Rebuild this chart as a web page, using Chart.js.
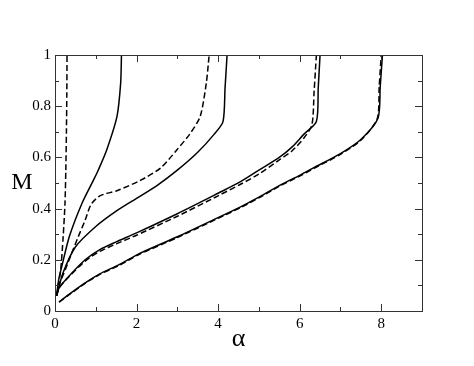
<!DOCTYPE html>
<html>
<head>
<meta charset="utf-8">
<script src="https://cdn.jsdelivr.net/npm/chart.js@4"></script>
<style>
  body { margin: 0; background: #fff; }
  #wrap { width: 474px; height: 366px; }
</style>
</head>
<body>
<div id="wrap"><canvas id="mplot"></canvas></div>
<script>
// curves: alpha values and M values
var aA = [0.04, 0.09, 0.14, 0.2, 0.245, 0.265, 0.28, 0.29, 0.295];
var mA = [0.06, 0.11, 0.16, 0.29, 0.42, 0.55, 0.7, 0.85, 1.0];

var aB = [0.04, 0.07, 0.1, 0.16, 0.35, 0.66, 0.94, 1.06, 1.27, 1.52, 1.61, 1.63];
var mB = [0.06, 0.1, 0.13, 0.17, 0.29, 0.42, 0.51, 0.55, 0.63, 0.76, 0.89, 1.0];

var aC = [0.04, 0.12, 0.25, 0.41, 0.57, 0.74, 0.88, 1.1, 1.52, 2.09, 2.6, 2.99, 3.3, 3.56, 3.71, 3.78];
var mC = [0.06, 0.11, 0.16, 0.226, 0.29, 0.355, 0.415, 0.45, 0.47, 0.51, 0.56, 0.63, 0.69, 0.76, 0.89, 1.0];

var aD = [0.04, 0.2, 0.5, 1, 1.5, 2, 2.5, 3, 3.5, 3.9, 4.12, 4.17, 4.22];
var mD = [0.06, 0.15, 0.25, 0.33, 0.39, 0.44, 0.49, 0.55, 0.62, 0.69, 0.74, 0.87, 1.0];

var aE = [0.04, 0.1, 0.33, 0.74, 1.1, 1.5, 2, 3, 4, 4.55, 5, 5.5, 5.81, 6.1, 6.41, 6.455, 6.5];
var mE = [0.06, 0.09, 0.134, 0.2, 0.24, 0.27, 0.305, 0.38, 0.46, 0.505, 0.55, 0.6, 0.64, 0.69, 0.74, 0.87, 1.0];

var aE2 = [0.04, 0.1, 0.33, 0.74, 1.1, 1.5, 2, 3, 4, 4.55, 5, 5.5, 5.81, 6.1, 6.3, 6.355, 6.41];
var mE2 = [0.06, 0.09, 0.132, 0.195, 0.233, 0.262, 0.296, 0.37, 0.45, 0.495, 0.535, 0.59, 0.625, 0.675, 0.727, 0.86, 1.0];

var aF = [0.1, 0.3, 0.74, 1.1, 1.56, 2.09, 3, 4, 4.55, 5, 5.5, 6, 6.35, 7, 7.5, 7.92, 7.975, 8.03];
var mF = [0.035, 0.06, 0.11, 0.145, 0.18, 0.226, 0.29, 0.365, 0.407, 0.445, 0.49, 0.53, 0.56, 0.615, 0.67, 0.753, 0.875, 1.0];

var aF2 = [0.1, 0.3, 0.74, 1.1, 1.56, 2.09, 3, 4, 4.55, 5, 5.5, 6, 6.35, 7, 7.5, 7.9, 7.95, 8.0];
var mF2 = [0.035, 0.058, 0.108, 0.143, 0.177, 0.223, 0.287, 0.362, 0.404, 0.442, 0.487, 0.527, 0.557, 0.612, 0.667, 0.75, 0.875, 1.0];

var xTicks = [0, 2, 4, 6, 8];

function pts(a, m) {
  var out = [];
  for (var i = 0; i < a.length; i++) out.push({ x: a[i], y: m[i] });
  return out;
}

function line(a, m, dashed) {
  return {
    data: pts(a, m),
    showLine: true,
    borderColor: '#000',
    borderWidth: 1.5,
    borderDash: dashed ? [6, 3] : [],
    pointRadius: 0,
    fill: false,
    tension: 0.25
  };
}

// frame, inward ticks on all four sides, and the upright "M"
var frame = {
  id: 'frame',
  afterDraw: function (chart) {
    var ctx = chart.ctx;
    var ca = chart.chartArea;
    var x = chart.scales.x, y = chart.scales.y;
    ctx.save();
    ctx.strokeStyle = '#333';
    ctx.lineWidth = 1;
    ctx.strokeRect(ca.left + 0.5, ca.top + 0.5, ca.right - ca.left, ca.bottom - ca.top);
    ctx.beginPath();
    for (var v = 0; v <= 9; v++) {
      var px = Math.round(x.getPixelForValue(v)) + 0.5;
      var len = v % 2 === 0 ? 7 : 4;
      ctx.moveTo(px, ca.bottom); ctx.lineTo(px, ca.bottom - len);
      ctx.moveTo(px, ca.top); ctx.lineTo(px, ca.top + len);
    }
    for (var k = 0; k <= 10; k++) {
      var py = Math.round(y.getPixelForValue(k / 10)) + 0.5;
      var l2 = k % 2 === 0 ? 7 : 4;
      ctx.moveTo(ca.left, py); ctx.lineTo(ca.left + l2, py);
      ctx.moveTo(ca.right, py); ctx.lineTo(ca.right - l2, py);
    }
    ctx.stroke();
    ctx.fillStyle = '#000';
    ctx.font = '24px "Liberation Serif"';
    ctx.textAlign = 'center';
    ctx.textBaseline = 'middle';
    ctx.fillText('M', 22, 183);
    ctx.restore();
  }
};

new Chart(document.getElementById('mplot'), {
  type: 'scatter',
  data: {
    datasets: [
      line(aA, mA, true),
      line(aB, mB, false),
      line(aC, mC, true),
      line(aD, mD, false),
      line(aE, mE, false),
      line(aE2, mE2, true),
      line(aF, mF, false),
      line(aF2, mF2, true)
    ]
  },
  options: {
    responsive: true,
    maintainAspectRatio: false,
    animation: false,
    layout: { padding: { top: 55, right: 52, left: 0, bottom: 0 } },
    plugins: { legend: { display: false }, tooltip: { enabled: false } },
    scales: {
      x: {
        type: 'linear',
        min: 0,
        max: 9,
        grid: { display: false, drawTicks: false },
        border: { display: false },
        afterBuildTicks: function (s) { s.ticks = xTicks.map(function (v) { return { value: v }; }); },
        afterFit: function (s) { s.height = 55; },
        ticks: { color: '#000', padding: 4, font: { family: 'Liberation Serif', size: 15 } },
        title: {
          display: true,
          text: 'α',
          color: '#000',
          padding: { top: 0, bottom: 11 },
          font: { family: 'Liberation Serif', size: 26 }
        }
      },
      y: {
        type: 'linear',
        min: 0,
        max: 1,
        grid: { display: false, drawTicks: false },
        border: { display: false },
        afterFit: function (s) { s.width = 55; },
        ticks: {
          stepSize: 0.2,
          color: '#000',
          padding: 4,
          font: { family: 'Liberation Serif', size: 15 },
          callback: function (v) { return String(Math.round(v * 10) / 10); }
        }
      }
    }
  },
  plugins: [frame]
});
</script>
</body>
</html>
